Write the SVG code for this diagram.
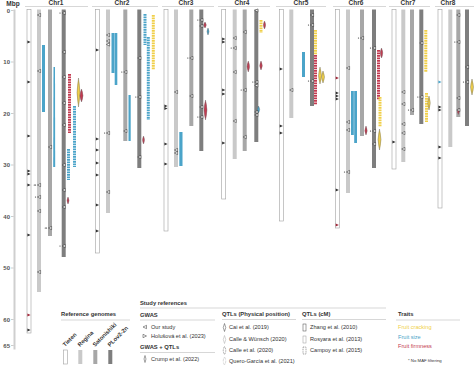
<svg xmlns="http://www.w3.org/2000/svg" xmlns:xlink="http://www.w3.org/1999/xlink" width="474" height="367" viewBox="0 0 474 367">
<style>
text{font-family:"Liberation Sans",Arial,sans-serif;fill:#333}
.hdr{font-size:6.5px;font-weight:bold;text-anchor:middle}
.ax{font-size:6px;font-weight:bold;text-anchor:end;fill:#555}
.hl{stroke:#d2d2d2;stroke-width:0.9}
.t{fill:#fff;stroke:#a0a0a0;stroke-width:0.6}
.r{fill:#c9c9c9}
.s{fill:#a7a7a7}
.p{fill:#7e7e7e}
.bs{fill:#4ba4c9}
.dr{stroke:#c43a50;stroke-width:3;stroke-dasharray:1.8 .7;fill:none}
.db{stroke:#4ba4c9;stroke-width:3;stroke-dasharray:1.8 .7;fill:none}
.dy{stroke:#f0cf48;stroke-width:3;stroke-dasharray:1.8 .7;fill:none}
.ly{fill:#f0cf48;stroke:#666;stroke-width:0.4}
.lr{fill:#c43a50;stroke:#666;stroke-width:0.4}
.lb{fill:#4ba4c9;stroke:#666;stroke-width:0.4}
.lg{font-size:5.6px}
.lgb{font-size:5.8px;font-weight:bold}
</style>
<defs>
<path id="o" d="M3.2,-1.6V1.6L0,0Z" fill="#fff" stroke="#222" stroke-width="0.5"/>
<path id="h" d="M0,-1.6V1.6L3.2,0Z" fill="#333"/>
<path id="hr" d="M0,-1.6V1.6L3.2,0Z" fill="#a0283a"/>
</defs>

<g id="axis">
<text x="13" y="5.5" class="hdr">Mbp</text>
<rect x="13.5" y="9.5" width="2" height="340" fill="#cfcfcf"/>
<g stroke="#999" stroke-width="0.5">
<line x1="11" x2="13.5" y1="10.5" y2="10.5"/><line x1="11" x2="13.5" y1="62" y2="62"/><line x1="11" x2="13.5" y1="113.5" y2="113.5"/><line x1="11" x2="13.5" y1="165" y2="165"/><line x1="11" x2="13.5" y1="216.5" y2="216.5"/><line x1="11" x2="13.5" y1="268" y2="268"/><line x1="11" x2="13.5" y1="319.5" y2="319.5"/><line x1="11" x2="13.5" y1="345.5" y2="345.5"/>
</g>
<text x="10" y="12.5" class="ax">0</text>
<text x="10" y="64" class="ax">10</text>
<text x="10" y="115.5" class="ax">20</text>
<text x="10" y="167" class="ax">30</text>
<text x="10" y="218.5" class="ax">40</text>
<text x="10" y="270" class="ax">50</text>
<text x="10" y="321.5" class="ax">60</text>
<text x="10" y="347.5" class="ax">65</text>
</g>

<g id="headers">
<line class="hl" x1="25" x2="88" y1="6.5" y2="6.5"/><text x="56" y="5" class="hdr">Chr1</text>
<line class="hl" x1="92" x2="158" y1="6.5" y2="6.5"/><text x="122" y="5" class="hdr">Chr2</text>
<line class="hl" x1="162" x2="214" y1="6.5" y2="6.5"/><text x="186" y="5" class="hdr">Chr3</text>
<line class="hl" x1="218" x2="270" y1="6.5" y2="6.5"/><text x="242" y="5" class="hdr">Chr4</text>
<line class="hl" x1="276" x2="326" y1="6.5" y2="6.5"/><text x="301" y="5" class="hdr">Chr5</text>
<line class="hl" x1="333" x2="386" y1="6.5" y2="6.5"/><text x="356" y="5" class="hdr">Chr6</text>
<line class="hl" x1="389" x2="430" y1="6.5" y2="6.5"/><text x="408" y="5" class="hdr">Chr7</text>
<line class="hl" x1="435" x2="474" y1="6.5" y2="6.5"/><text x="448" y="5" class="hdr">Chr8</text>
</g>

<g id="chr1">
<rect class="t" x="27" y="9.5" width="4" height="323.5"/>
<rect class="r" x="37" y="9.5" width="4" height="282.5"/>
<rect class="s" x="48" y="9.5" width="4" height="226.5"/>
<rect class="p" x="61.7" y="9.5" width="4" height="247.5"/>
<rect class="bs" x="42" y="45" width="3" height="67"/>
<path class="bs" d="M53.5,67L55,67L55.2,167L53.2,167Z"/>
<line class="dr" x1="69.5" x2="69.5" y1="74" y2="133"/>
<line class="db" x1="74.5" x2="74.5" y1="106" y2="167"/>
<line class="db" x1="68.5" x2="68.5" y1="149" y2="180"/>
<path class="ly" d="M78.5,78Q81.5,92.5 78.5,107Q75.5,92.5 78.5,78Z"/>
<path class="lr" d="M81.5,89Q84.5,95.5 81.5,102Q78.5,95.5 81.5,89Z"/>
<path class="lr" d="M68,197Q70,200.5 68,204Q66,200.5 68,197Z"/>
<use href="#h" x="27.4" y="42"/><use href="#h" x="27.4" y="82"/><use href="#h" x="27.4" y="136"/><use href="#h" x="27.4" y="171"/><use href="#h" x="27.4" y="174"/><use href="#h" x="27.4" y="185"/><use href="#h" x="27.4" y="235"/><use href="#hr" x="27.4" y="315"/><use href="#h" x="27.4" y="330"/>
<use href="#o" x="37.4" y="15"/><use href="#o" x="37.4" y="71"/><use href="#o" x="37.4" y="185"/><use href="#o" x="37.4" y="197"/><use href="#o" x="37.4" y="211"/><use href="#o" x="37.4" y="272"/>
<use href="#o" x="48.4" y="147"/><use href="#o" x="48.4" y="228"/>
<use href="#o" x="62.1" y="13"/><use href="#o" x="62.1" y="52"/><use href="#o" x="62.1" y="77"/><use href="#o" x="62.1" y="103"/><use href="#o" x="62.1" y="125"/><use href="#o" x="62.1" y="165"/><use href="#o" x="62.1" y="190"/><use href="#o" x="62.1" y="207"/><use href="#o" x="62.1" y="246"/>
<g fill="#333"><circle cx="60" cy="13" r="0.6"/><circle cx="35.5" cy="185" r="0.6"/><circle cx="34.3" cy="185" r="0.6"/><circle cx="35.5" cy="197" r="0.6"/><circle cx="46.5" cy="228" r="0.6"/><circle cx="45.3" cy="228" r="0.6"/><circle cx="60" cy="246" r="0.6"/></g>
</g>

<g id="chr2">
<rect class="t" x="95.5" y="9.5" width="4" height="243.5"/>
<rect class="r" x="106" y="9.5" width="4" height="203.5"/>
<rect class="s" x="123.3" y="9.5" width="4" height="131.5"/>
<rect class="p" x="137.3" y="9.5" width="4" height="158.5"/>
<rect class="bs" x="111.5" y="33" width="3" height="40"/>
<rect class="bs" x="114.7" y="33" width="2.6" height="52"/>
<rect class="bs" x="128.5" y="95" width="2.2" height="46"/>
<line class="db" x1="145" x2="145" y1="14" y2="45"/>
<line class="db" x1="148.3" x2="148.3" y1="37" y2="120"/>
<line class="dy" x1="153.3" x2="153.3" y1="15" y2="70"/>
<path class="lr" d="M143.5,136Q145.5,140 143.5,144Q141.5,140 143.5,136Z"/>
<use href="#h" x="95.9" y="50"/><use href="#h" x="95.9" y="139"/><use href="#h" x="95.9" y="150"/><use href="#h" x="95.9" y="163"/><use href="#h" x="95.9" y="175"/><use href="#h" x="95.9" y="205"/><use href="#h" x="95.9" y="231"/>
<use href="#o" x="106.4" y="35"/><use href="#o" x="106.4" y="41"/><use href="#o" x="106.4" y="44.5"/><use href="#o" x="106.4" y="133"/><use href="#o" x="106.4" y="192"/>
<use href="#o" x="123.7" y="72"/><use href="#o" x="123.7" y="131"/>
<use href="#o" x="137.7" y="58"/><use href="#o" x="137.7" y="97"/><use href="#o" x="137.7" y="157"/>
<g fill="#333"><circle cx="121.8" cy="72" r="0.6"/><circle cx="135.8" cy="97" r="0.6"/><circle cx="104.6" cy="133" r="0.6"/></g>
</g>

<g id="chr3">
<rect class="t" x="164" y="9.5" width="4" height="221.5"/>
<rect class="r" x="174" y="9.5" width="4" height="157.5"/>
<rect class="s" x="189.3" y="9.5" width="4" height="116.5"/>
<rect class="p" x="199.3" y="9.5" width="4" height="141.5"/>
<rect class="bs" x="179.3" y="132" width="3.2" height="34"/>
<path class="lr" d="M205,22Q207.5,25 205,28Q202.5,25 205,22Z"/>
<path class="lb" d="M208,28Q210,31.5 208,35Q206,31.5 208,28Z"/>
<path class="lr" d="M205.5,100Q208.5,110 205.5,120Q202.5,110 205.5,100Z"/>
<use href="#h" x="164.4" y="106"/><use href="#h" x="164.4" y="108.5"/><use href="#h" x="164.4" y="144"/><use href="#h" x="164.4" y="164"/>
<use href="#o" x="174.4" y="92"/><use href="#o" x="174.4" y="150"/><use href="#o" x="174.4" y="153"/>
<use href="#o" x="189.7" y="58"/><use href="#o" x="189.7" y="96"/>
<use href="#o" x="199.7" y="20"/><use href="#o" x="199.7" y="26"/><use href="#o" x="199.7" y="107"/><use href="#o" x="199.7" y="117"/>
<g fill="#333"><circle cx="197.8" cy="20" r="0.6"/><circle cx="187.8" cy="58" r="0.6"/><circle cx="197.8" cy="117" r="0.6"/></g>
</g>

<g id="chr4">
<rect class="t" x="221.7" y="9.5" width="4" height="189.5"/>
<rect class="r" x="232.7" y="9.5" width="4" height="149.5"/>
<rect class="s" x="242.7" y="9.5" width="4" height="141.5"/>
<rect class="p" x="254.3" y="9.5" width="4" height="132.5"/>
<path class="lr" d="M248.3,61Q250.8,66.5 248.3,72Q245.8,66.5 248.3,61Z"/>
<line class="dy" x1="261" x2="261" y1="20" y2="33"/>
<path class="lr" d="M264.5,21Q266.8,25 264.5,29Q262.2,25 264.5,21Z"/>
<path class="lr" d="M261,61Q263.5,65.5 261,70Q258.5,65.5 261,61Z"/>
<path class="lb" d="M258.5,106Q260.8,109.5 258.5,113Q256.2,109.5 258.5,106Z"/>
<use href="#h" x="222.1" y="39"/><use href="#h" x="222.1" y="42"/><use href="#h" x="222.1" y="90"/><use href="#h" x="222.1" y="94"/><use href="#h" x="222.1" y="143"/>
<use href="#o" x="233.1" y="38"/><use href="#o" x="233.1" y="48"/><use href="#o" x="233.1" y="72"/><use href="#o" x="233.1" y="121"/>
<use href="#o" x="243.1" y="32"/><use href="#o" x="243.1" y="90"/><use href="#o" x="243.1" y="137"/>
<use href="#o" x="254.7" y="10.5"/><use href="#o" x="254.7" y="82"/><use href="#o" x="254.7" y="85.5"/><use href="#o" x="254.7" y="112"/><use href="#o" x="254.7" y="115"/>
<g fill="#333"><circle cx="252.8" cy="82" r="0.6"/><circle cx="241.2" cy="90" r="0.6"/><circle cx="231.2" cy="48" r="0.6"/></g>
</g>

<g id="chr5">
<rect class="t" x="279.3" y="9.5" width="4" height="211.5"/>
<rect class="r" x="289.3" y="9.5" width="4" height="108.5"/>
<rect class="p" x="310" y="9.5" width="4" height="96.5"/>
<rect class="bs" x="302" y="52" width="3" height="25"/>
<line class="dy" x1="315.5" x2="315.5" y1="30" y2="55"/>
<line class="dr" x1="315.5" x2="315.5" y1="55" y2="105"/>
<path class="ly" d="M320,67Q323,75.5 320,84Q317,75.5 320,67Z"/>
<path class="ly" d="M323,71Q326,77 323,83Q320,77 323,71Z"/>
<use href="#h" x="279.7" y="69"/><use href="#h" x="279.7" y="126"/><use href="#h" x="279.7" y="133"/>
<use href="#o" x="289.7" y="90"/>
<use href="#o" x="310.4" y="15"/><use href="#o" x="310.4" y="25"/><use href="#o" x="310.4" y="81"/>
<g fill="#333"><circle cx="308.5" cy="25" r="0.6"/><circle cx="308.5" cy="81" r="0.6"/></g>
</g>

<g id="chr6">
<rect class="t" x="335.3" y="9.5" width="4" height="218.5"/>
<rect class="r" x="346" y="9.5" width="4" height="183.5"/>
<rect class="s" x="360" y="9.5" width="4" height="126.5"/>
<rect class="p" x="372" y="9.5" width="4" height="158.5"/>
<rect class="bs" x="351" y="91" width="2.8" height="44"/>
<rect class="bs" x="354.2" y="91" width="2.8" height="52"/>
<path class="lr" d="M366,126Q368.3,130.5 366,135Q363.7,130.5 366,126Z"/>
<line class="dr" x1="378.5" x2="378.5" y1="50" y2="100"/>
<path class="lr" d="M381.5,48Q384,53 381.5,58Q379,53 381.5,48Z"/>
<line class="dy" x1="380" x2="380" y1="97" y2="127"/>
<path class="ly" d="M379.5,129Q382.5,139.5 379.5,150Q376.5,139.5 379.5,129Z"/>
<use href="#hr" x="335.7" y="78"/><use href="#h" x="335.7" y="93"/><use href="#h" x="335.7" y="96"/><use href="#h" x="335.7" y="99"/><use href="#h" x="335.7" y="190"/><use href="#hr" x="335.7" y="225"/>
<use href="#o" x="346.4" y="68"/><use href="#o" x="346.4" y="122"/><use href="#o" x="346.4" y="130"/><use href="#o" x="346.4" y="172"/>
<use href="#o" x="360.4" y="38"/>
<use href="#o" x="372.4" y="48"/><use href="#o" x="372.4" y="131"/><use href="#o" x="372.4" y="144"/>
<g fill="#333"><circle cx="358.5" cy="38" r="0.6"/><circle cx="370.5" cy="48" r="0.6"/><circle cx="370.5" cy="131" r="0.6"/><circle cx="344.5" cy="172" r="0.6"/></g>
</g>

<g id="chr7">
<rect class="t" x="392" y="9.5" width="4" height="159.5"/>
<rect class="r" x="401.3" y="9.5" width="4" height="152.5"/>
<rect class="s" x="410" y="9.5" width="4" height="105.5"/>
<rect class="p" x="419.3" y="9.5" width="4" height="114.5"/>
<line class="dy" x1="425.8" x2="425.8" y1="30" y2="72"/>
<line class="dy" x1="426.5" x2="426.5" y1="93" y2="122"/>
<path class="ly" d="M429,96Q431.5,103 429,110Q426.5,103 429,96Z"/>
<use href="#h" x="392.4" y="142"/>
<use href="#o" x="401.7" y="92"/><use href="#o" x="401.7" y="104"/><use href="#o" x="401.7" y="124"/><use href="#o" x="401.7" y="133"/><use href="#o" x="401.7" y="149"/>
<use href="#o" x="410.4" y="110"/>
<use href="#o" x="419.7" y="43"/><use href="#o" x="419.7" y="97"/>
<g fill="#333"><circle cx="417.8" cy="97" r="0.6"/><circle cx="408.5" cy="110" r="0.6"/></g>
</g>

<g id="chr8">
<rect class="t" x="438" y="9.5" width="4" height="198.5"/>
<rect class="r" x="448.3" y="9.5" width="4" height="137.5"/>
<rect class="s" x="456.3" y="9.5" width="4" height="107.5"/>
<rect class="p" x="465" y="9.5" width="4" height="116.5"/>
<path class="ly" d="M472,79Q475,87 472,95Q469,87 472,79Z"/>
<path class="lr" d="M458.3,108.5Q460,111.5 458.3,114.5Q456.6,111.5 458.3,108.5Z"/>
<path d="M438.4,80.4V83.6L441.6,82Z" fill="#4ba4c9"/>
<use href="#h" x="438.4" y="107"/><use href="#h" x="438.4" y="110"/><use href="#h" x="438.4" y="147"/><use href="#h" x="438.4" y="158"/>
<use href="#o" x="456.7" y="15"/><use href="#o" x="456.7" y="42"/><use href="#o" x="456.7" y="98"/><use href="#o" x="456.7" y="110"/>
<use href="#o" x="465.4" y="67"/><use href="#o" x="465.4" y="82"/>
<g fill="#333"><circle cx="463.5" cy="82" r="0.6"/><circle cx="454.8" cy="42" r="0.6"/></g>
</g>

<g id="legend-genomes">
<text x="61" y="316" class="lgb">Reference genomes</text>
<line class="hl" x1="61" x2="130" y1="320" y2="320"/>
<text class="lgb" transform="translate(65,347) rotate(-45)">Tieten</text>
<text class="lgb" transform="translate(80,347) rotate(-45)">Regina</text>
<text class="lgb" transform="translate(95,347) rotate(-45)">Satonishiki</text>
<text class="lgb" transform="translate(110,347) rotate(-45)">PLov2-2n</text>
<rect class="t" x="63.3" y="350" width="4" height="14"/>
<rect class="r" x="78.3" y="350" width="4" height="14"/>
<rect class="s" x="93.3" y="350" width="4" height="14"/>
<rect class="p" x="108.3" y="350" width="4" height="14"/>
</g>

<g id="legend-studies">
<text x="140" y="304.5" class="lgb">Study references</text>
<line class="hl" x1="140" x2="386" y1="308" y2="308"/>
<text x="140" y="316.5" class="lgb">GWAS</text>
<line class="hl" x1="140" x2="215" y1="320" y2="320"/>
<path d="M146.5,325.3V328.7L143,327Z" fill="#fff" stroke="#333" stroke-width="0.5"/>
<text x="151" y="329" class="lg">Our study</text>
<path d="M143,334.3V337.7L146.5,336Z" fill="#fff" stroke="#333" stroke-width="0.5"/>
<text x="151" y="338" class="lg">Holušová et al. (2023)</text>
<text x="140" y="349" class="lgb">GWAS + QTLs</text>
<line class="hl" x1="140" x2="215" y1="352.5" y2="352.5"/>
<path d="M145,355.5Q147,359 145,362.5Q143,359 145,355.5Z" fill="#fff" stroke="#444" stroke-width="0.5"/>
<text x="151" y="361" class="lg">Crump et al. (2022)</text>

<text x="222" y="315.5" class="lgb">QTLs (Physical position)</text>
<line class="hl" x1="222" x2="296" y1="319.5" y2="319.5"/>
<path d="M224.5,323.5Q227,327.5 224.5,331.5Q222,327.5 224.5,323.5Z" fill="#fff" stroke="#444" stroke-width="0.5"/>
<text x="229" y="329" class="lg">Cai et al. (2019)</text>
<path d="M224.5,335.5Q227,339.5 224.5,343.5Q222,339.5 224.5,335.5Z" fill="#fff" stroke="#aaa" stroke-width="0.5"/>
<text x="229" y="341" class="lg">Calle &amp; Wünsch (2020)</text>
<path d="M224.5,346.5Q227,350.5 224.5,354.5Q222,350.5 224.5,346.5Z" fill="#fff" stroke="#444" stroke-width="0.5" stroke-dasharray="1 .7"/>
<text x="229" y="352" class="lg">Calle et al. (2020)</text>
<path d="M224.5,357Q227,361 224.5,365Q222,361 224.5,357Z" fill="#fff" stroke="#777" stroke-width="0.5" stroke-dasharray=".6 .8"/>
<text x="229" y="363" class="lg">Quero-García et al. (2021)</text>

<text x="302" y="315.5" class="lgb">QTLs (cM)</text>
<line class="hl" x1="302" x2="386" y1="319.5" y2="319.5"/>
<rect x="303" y="324" width="3" height="7" fill="#fff" stroke="#444" stroke-width="0.5"/>
<text x="310" y="329" class="lg">Zhang et al. (2010)</text>
<rect x="303" y="336" width="3" height="7" fill="#fff" stroke="#999" stroke-width="0.5"/>
<text x="310" y="341" class="lg">Rosyara et al. (2013)</text>
<rect x="303" y="347" width="3" height="7" fill="#fff" stroke="#444" stroke-width="0.5" stroke-dasharray="1 .7"/>
<text x="310" y="352" class="lg">Campoy et al. (2015)</text>
</g>

<g id="legend-traits">
<text x="398" y="316" class="lgb">Traits</text>
<line class="hl" x1="396" x2="460" y1="320" y2="320"/>
<text x="398" y="329" class="lg" style="fill:#f0cf48">Fruit cracking</text>
<text x="398" y="338.5" class="lg" style="fill:#4ba4c9">Fruit size</text>
<text x="398" y="348" class="lg" style="fill:#c43a50">Fruit firmness</text>
<text x="408" y="361.5" style="font-size:4.3px">* No MAF filtering</text>
</g>
</svg>
